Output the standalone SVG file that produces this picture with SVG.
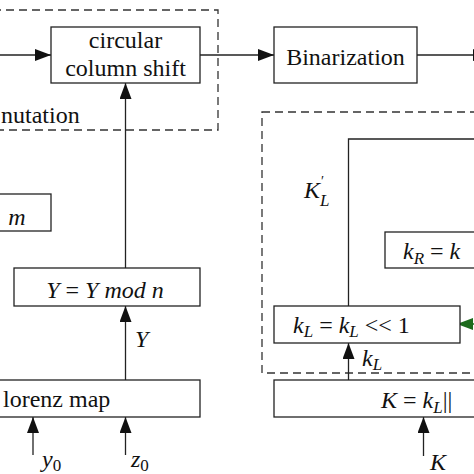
<svg xmlns="http://www.w3.org/2000/svg" width="474" height="474" viewBox="0 0 474 474">
<style>
.box{fill:#fff;stroke:#222;stroke-width:1.3}
.dash{fill:none;stroke:#333;stroke-width:1.3;stroke-dasharray:8 5}
.ln{fill:none;stroke:#222;stroke-width:1.3}
.t{font-family:'Liberation Serif','Times New Roman',serif;font-size:24px;fill:#111}
.i{font-style:italic}
.sub{font-size:17px;font-style:italic}
</style>
<defs>
<marker id="ah" markerUnits="userSpaceOnUse" markerWidth="16" markerHeight="12" refX="16" refY="6" orient="auto">
<path d="M0,0 L16,6 L0,12 z" fill="#111"/>
</marker>
<marker id="ahg" markerUnits="userSpaceOnUse" markerWidth="16" markerHeight="12" refX="16" refY="6" orient="auto">
<path d="M0,0 L16,6 L0,12 z" fill="#1d6b1d"/>
</marker>
</defs>
<rect width="474" height="474" fill="#fff"/>
<g id="permutation">
<rect class="dash" x="-20" y="10" width="238" height="120"/>
<text class="t" x="1" y="123">nutation</text>
</g>
<g id="keygen">
<rect class="dash" x="262" y="112" width="240" height="261"/>
</g>

<g id="connectors">
<line class="ln" x1="-5" y1="55" x2="51" y2="55" marker-end="url(#ah)"/>
<line class="ln" x1="200" y1="55" x2="274" y2="55" marker-end="url(#ah)"/>
<line class="ln" x1="417" y1="55" x2="489" y2="55" marker-end="url(#ah)"/>
<line class="ln" x1="125.5" y1="268" x2="125.5" y2="83" marker-end="url(#ah)"/>
<line class="ln" x1="125.5" y1="380" x2="125.5" y2="306" marker-end="url(#ah)"/>
<line class="ln" x1="33" y1="455" x2="33" y2="417" marker-end="url(#ah)"/>
<line class="ln" x1="125.5" y1="455" x2="125.5" y2="417" marker-end="url(#ah)"/>
<polyline class="ln" points="348.5,306 348.5,139 480,139"/>
<line class="ln" x1="348.5" y1="380" x2="348.5" y2="343" marker-end="url(#ah)"/>
<line class="ln" x1="423.5" y1="456" x2="423.5" y2="417" marker-end="url(#ah)"/>
<line x1="490" y1="324" x2="457" y2="324" stroke="#1d6b1d" stroke-width="1.3" marker-end="url(#ahg)"/>
<text class="t i" x="135" y="347">Y</text>
<text class="t" x="42" y="467"><tspan class="i">y</tspan><tspan font-size="17" dy="4">0</tspan></text>
<text class="t" x="131" y="467"><tspan class="i">z</tspan><tspan font-size="17" dy="4">0</tspan></text>
<text class="t i" x="304" y="198">K<tspan font-style="normal" font-size="14" x="321" y="186">′</tspan><tspan class="sub" x="320" y="206">L</tspan></text>
<text class="t" x="362" y="366"><tspan class="i">k</tspan><tspan class="sub" dy="4">L</tspan></text>
<text class="t i" x="430" y="470">K</text>
</g>

<g id="circular-shift">
<rect class="box" x="51" y="27" width="149" height="56"/>
<text class="t" x="125.5" y="48" text-anchor="middle">circular</text>
<text class="t" x="125.5" y="76" text-anchor="middle">column shift</text>
</g>

<g id="binarization">
<rect class="box" x="274" y="27" width="143" height="56"/>
<text class="t" x="345.5" y="65" text-anchor="middle">Binarization</text>
</g>

<g id="mod-m">
<rect class="box" x="-10" y="194" width="61" height="37"/>
<text class="t i" x="17" y="225" text-anchor="middle">m</text>
</g>

<g id="mod-n">
<rect class="box" x="14" y="268" width="186" height="38"/>
<text class="t" x="105" y="298" text-anchor="middle"><tspan class="i">Y</tspan> = <tspan class="i">Y mod n</tspan></text>
</g>

<g id="lorenz">
<rect class="box" x="-10" y="380" width="210" height="37"/>
<text class="t" x="3" y="407">lorenz map</text>
</g>

<g id="shift-right">
<rect class="box" x="385" y="232" width="120" height="36"/>
<text class="t" x="403" y="259"><tspan class="i">k</tspan><tspan class="sub" dy="5">R</tspan><tspan dy="-5"> = </tspan><tspan class="i">k</tspan></text>
</g>

<g id="shift-left">
<rect class="box" x="274" y="306" width="186" height="37"/>
<text class="t" x="293" y="333"><tspan class="i">k</tspan><tspan class="sub" dy="4">L</tspan><tspan dy="-4"> = </tspan><tspan class="i">k</tspan><tspan class="sub" dy="4">L</tspan><tspan dy="-4"> &lt;&lt; 1</tspan></text>
</g>

<g id="split">
<rect class="box" x="274" y="380" width="230" height="37"/>
<text class="t" x="381" y="408"><tspan class="i">K</tspan> = <tspan class="i">k</tspan><tspan class="sub" dy="5">L</tspan><tspan dy="-5">||</tspan></text>
</g>
</svg>
